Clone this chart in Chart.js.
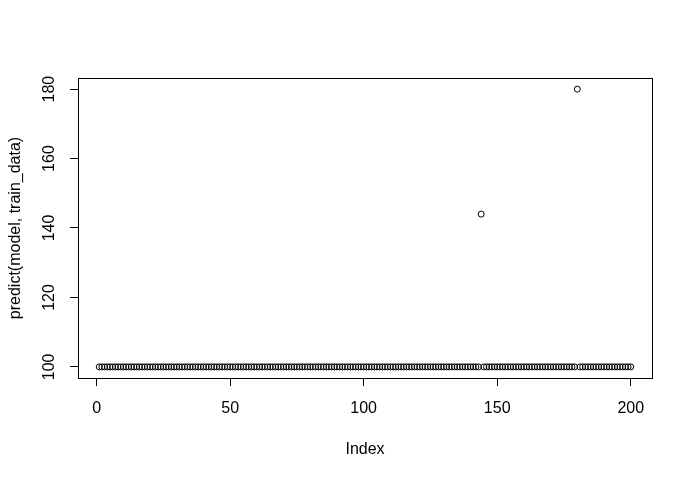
<!DOCTYPE html>
<html>
<head>
<meta charset="utf-8">
<script src="https://cdn.jsdelivr.net/npm/chart.js@4"></script>
<style>
  body { margin: 0; background: #fff; }
  canvas { display: block; }
</style>
</head>
<body>
<canvas id="plot" width="693" height="477"></canvas>
<script>
// predict(model, train_data), one value per row of train_data
const predictions = [
    100, 100, 100, 100, 100, 100, 100, 100, 100, 100, 100, 100, 100, 100, 100, 100, 100, 100, 100, 100,
    100, 100, 100, 100, 100, 100, 100, 100, 100, 100, 100, 100, 100, 100, 100, 100, 100, 100, 100, 100,
    100, 100, 100, 100, 100, 100, 100, 100, 100, 100, 100, 100, 100, 100, 100, 100, 100, 100, 100, 100,
    100, 100, 100, 100, 100, 100, 100, 100, 100, 100, 100, 100, 100, 100, 100, 100, 100, 100, 100, 100,
    100, 100, 100, 100, 100, 100, 100, 100, 100, 100, 100, 100, 100, 100, 100, 100, 100, 100, 100, 100,
    100, 100, 100, 100, 100, 100, 100, 100, 100, 100, 100, 100, 100, 100, 100, 100, 100, 100, 100, 100,
    100, 100, 100, 100, 100, 100, 100, 100, 100, 100, 100, 100, 100, 100, 100, 100, 100, 100, 100, 100,
    100, 100, 100, 144, 100, 100, 100, 100, 100, 100, 100, 100, 100, 100, 100, 100, 100, 100, 100, 100,
    100, 100, 100, 100, 100, 100, 100, 100, 100, 100, 100, 100, 100, 100, 100, 100, 100, 100, 100, 180,
    100, 100, 100, 100, 100, 100, 100, 100, 100, 100, 100, 100, 100, 100, 100, 100, 100, 100, 100, 100
];
const xTicks = [0, 50, 100, 150, 200];
const yTicks = [100, 120, 140, 160, 180];

// index 1..n like R's plot(y)
const points = predictions.map((v, i) => ({ x: i + 1, y: v }));

const FONT = 'Liberation Sans, Arial, sans-serif';

// R pads each axis range by 4%
const xPad = (predictions.length - 1) * 0.04;
const yPad = (Math.max(...predictions) - Math.min(...predictions)) * 0.04;

const boxPlugin = {
    id: 'rBox',
    afterDraw(chart) {
        const c = chart.ctx;
        const a = chart.chartArea;
        c.save();
        c.strokeStyle = '#000';
        c.lineWidth = 1;
        c.strokeRect(a.left + 0.5, a.top + 0.5, a.right - a.left, a.bottom - a.top);
        // vertical y tick labels, as R draws them
        const ys = chart.scales.y;
        c.fillStyle = '#000';
        c.font = '16px ' + FONT;
        c.textAlign = 'center';
        c.textBaseline = 'middle';
        ys.ticks.forEach(t => {
            c.save();
            c.translate(50, ys.getPixelForValue(t.value));
            c.rotate(-Math.PI / 2);
            c.fillText(String(t.value), 0, 0);
            c.restore();
        });
        c.restore();
    }
};

const ctx = document.getElementById('plot').getContext('2d');
const chart = new Chart(ctx, {
    type: 'scatter',
    data: {
        datasets: [{
            data: points,
            pointStyle: 'circle',
            pointRadius: 3,
            pointHoverRadius: 3,
            borderColor: '#000',
            backgroundColor: 'rgba(0,0,0,0)',
            borderWidth: 1
        }]
    },
    options: {
        responsive: false,
        animation: false,
        events: [],
        layout: { padding: { left: 0, right: 41, top: 78, bottom: 14 } },
        plugins: { legend: { display: false }, tooltip: { enabled: false } },
        scales: {
            x: {
                type: 'linear',
                min: 1 - xPad,
                max: predictions.length + xPad,
                afterBuildTicks: s => { s.ticks = xTicks.map(v => ({ value: v })); },
                afterFit: s => { s.height = 85; },
                grid: { drawOnChartArea: false, drawTicks: true, tickLength: 8, color: '#000' },
                border: { display: true, color: '#000' },
                ticks: {
                    color: '#000',
                    padding: 13,
                    maxRotation: 0,
                    font: { family: FONT, size: 16 }
                },
                title: {
                    display: true,
                    text: 'Index',
                    color: '#000',
                    font: { family: FONT, size: 16 }
                }
            },
            y: {
                min: 100 - yPad,
                max: 180 + yPad,
                afterBuildTicks: s => { s.ticks = yTicks.map(v => ({ value: v })); },
                afterFit: s => { s.width = 78; },
                grid: { drawOnChartArea: false, drawTicks: true, tickLength: 8, color: '#000' },
                border: { display: true, color: '#000' },
                ticks: { display: false },
                title: {
                    display: true,
                    text: 'predict(model, train_data)',
                    color: '#000',
                    font: { family: FONT, size: 16, lineHeight: 1.4 }
                }
            }
        }
    },
    plugins: [boxPlugin]
});
</script>
</body>
</html>
